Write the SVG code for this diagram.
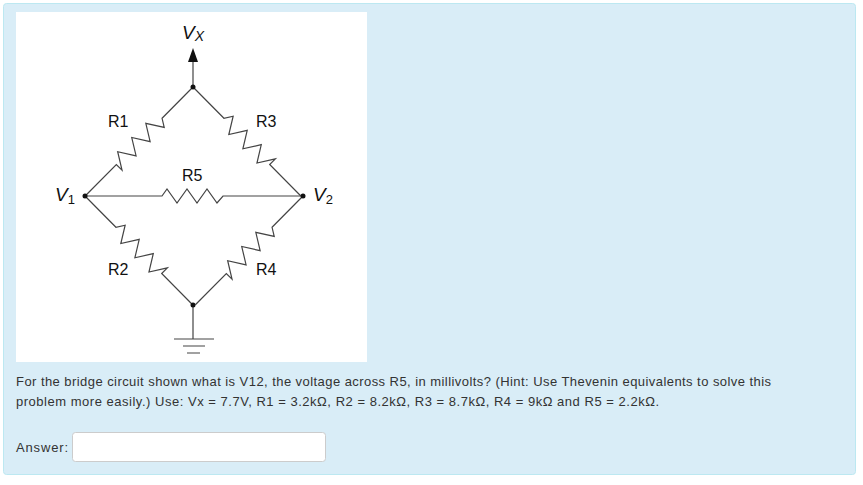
<svg xmlns="http://www.w3.org/2000/svg" width="863" height="485" viewBox="0 0 863 485">
<defs>
<style>
.w{fill:none;stroke:#444;stroke-width:1.2;stroke-linejoin:miter}
.l{font-family:"Liberation Sans",Arial,sans-serif;font-size:16px;fill:#111}
.v{font-family:"Liberation Sans",Arial,sans-serif;font-size:19px;font-style:italic;fill:#111}
.t{font-family:"Liberation Sans",Arial,sans-serif;font-size:13px;fill:#333}
</style>
<path id="res" class="w" d="M0,0 H44 l5,-8 l10,16 l10,-16 l10,16 l10,-16 l10,16 l10,-16 l0,8 H153"/>
</defs>
<rect x="3.5" y="3.5" width="852" height="471" rx="3" fill="#d9edf7" stroke="#bce8f1"/>
<rect x="16" y="12" width="351" height="350" fill="#fff"/>
<g id="connectors">
<use href="#res" transform="translate(193,87) rotate(134.7)"/>
<use href="#res" transform="translate(193,87) rotate(45.3)"/>
<use href="#res" transform="translate(85,196) rotate(45.3)"/>
<use href="#res" transform="translate(303,196) rotate(134.7)"/>
<path class="w" d="M85,196 H162 l5,-7 l10,14 l10,-14 l10,14 l10,-14 l10,14 l6,-7 H303"/>
<path class="w" d="M193,87 V62"/>
<path d="M193,48 L188,62 H198 Z" fill="#111"/>
<path class="w" d="M193,305 V339 M174,339 H214 M183,346 H205 M187,353 H200"/>
</g>
<g id="nodes" fill="#111">
<circle cx="193" cy="87" r="2.5"/>
<circle cx="85" cy="196" r="2.5"/>
<circle cx="303" cy="196" r="2.5"/>
<circle cx="193" cy="305" r="2.5"/>
</g>
<g id="labels">
<text class="v" x="182" y="39">V<tspan font-size="14" dy="2">X</tspan></text>
<text class="v" x="55" y="201">V<tspan font-size="13" dy="3" font-style="normal">1</tspan></text>
<text class="v" x="313" y="201">V<tspan font-size="13" dy="3" font-style="normal">2</tspan></text>
<text class="l" x="108" y="127">R1</text>
<text class="l" x="256" y="127">R3</text>
<text class="l" x="182" y="181">R5</text>
<text class="l" x="108" y="275">R2</text>
<text class="l" x="256" y="275">R4</text>
</g>
<text class="t" x="16" y="386" textLength="755">For the bridge circuit shown what is V12, the voltage across R5, in millivolts? (Hint: Use Thevenin equivalents to solve this</text>
<text class="t" x="16" y="406" textLength="643">problem more easily.)  Use: Vx = 7.7V, R1 = 3.2kΩ, R2 = 8.2kΩ, R3 = 8.7kΩ, R4 = 9kΩ and R5 = 2.2kΩ.</text>
<text class="t" x="16" y="452" textLength="52">Answer:</text>
<rect x="72.5" y="432.5" width="253" height="29" rx="3" fill="#fff" stroke="#ccc"/>
</svg>
